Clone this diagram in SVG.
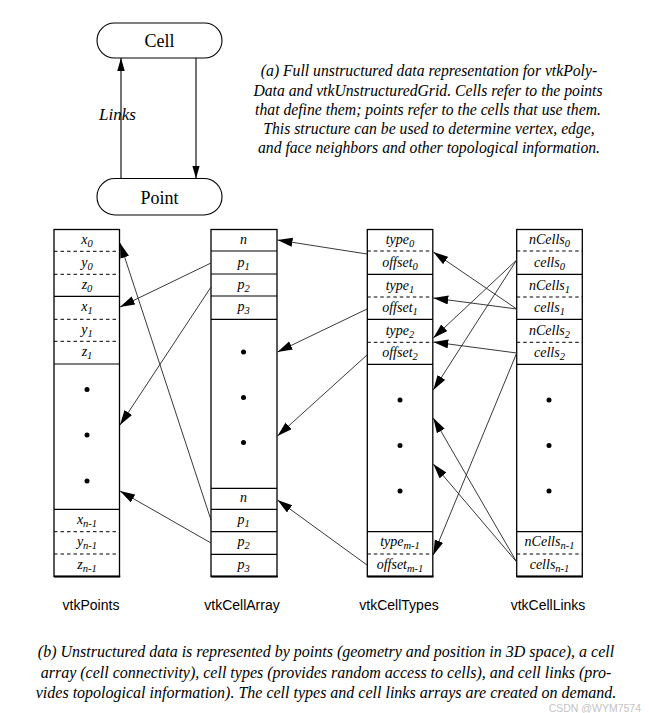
<svg xmlns="http://www.w3.org/2000/svg" width="649" height="713" viewBox="0 0 649 713">
<defs>
<marker id="ah" markerUnits="userSpaceOnUse" markerWidth="16" markerHeight="10" refX="15" refY="4.5" orient="auto">
<path d="M0,0 L15,4.5 L0,9 z" fill="#000"/>
</marker>
<marker id="ah2" markerUnits="userSpaceOnUse" markerWidth="14" markerHeight="8" refX="13" refY="3.75" orient="auto">
<path d="M0,0 L13,3.75 L0,7.5 z" fill="#000"/>
</marker>
</defs>
<style>
.box{fill:#fff;stroke:#000;stroke-width:1.3}
.sep{stroke:#000;stroke-width:1.2}
.dash{stroke:#000;stroke-width:1;stroke-dasharray:3.5 3}
.bot{stroke:#000;stroke-width:2.2}
.lbl{font-family:"Liberation Serif",serif;font-style:italic;font-size:14px;text-anchor:middle;fill:#000}
.sub{font-size:10.5px}
.dot{fill:#000}
.cap{font-family:"Liberation Serif",serif;font-style:italic;font-size:15.7px;text-anchor:middle;fill:#000}
.capb{font-family:"Liberation Serif",serif;font-style:italic;font-size:16px;text-anchor:middle;fill:#000}
.name{font-family:"Liberation Sans",Arial,sans-serif;font-size:14px;text-anchor:middle;fill:#000}
.node{fill:#fff;stroke:#000;stroke-width:1.1}
.ntx{font-family:"Liberation Serif",serif;font-size:18px;text-anchor:middle;fill:#000}
.con{stroke:#222;stroke-width:0.9;fill:none;marker-end:url(#ah)}
.con2{stroke:#000;stroke-width:1.1;fill:none;marker-end:url(#ah2)}
</style>

<g id="cell">
<rect class="node" x="97" y="23" width="125" height="35" rx="17.5"/>
<text class="ntx" x="159.5" y="46.5">Cell</text>
</g>
<g id="point">
<rect class="node" x="97" y="178.5" width="125" height="36.5" rx="18"/>
<text class="ntx" x="159.5" y="203.5">Point</text>
</g>
<text x="99" y="120" style="font-family:'Liberation Serif',serif;font-style:italic;font-size:17px;fill:#000">Links</text>

<g id="caption-a" class="cap">
<text x="429" y="76">(a) Full unstructured data representation for vtkPoly-</text>
<text x="428" y="96">Data and vtkUnstructuredGrid. Cells refer to the points</text>
<text x="428" y="115">that define them; points refer to the cells that use them.</text>
<text x="429" y="134">This structure can be used to determine vertex, edge,</text>
<text x="429" y="153">and face neighbors and other topological information.</text>
</g>

<g id="vtkPoints">
<rect class="box" x="54" y="229.5" width="65.5" height="347"/>
<line class="dash" x1="54" y1="251.3" x2="119.5" y2="251.3"/>
<line class="dash" x1="54" y1="274.3" x2="119.5" y2="274.3"/>
<line class="sep" x1="54" y1="296.3" x2="119.5" y2="296.3"/>
<line class="dash" x1="54" y1="319.3" x2="119.5" y2="319.3"/>
<line class="dash" x1="54" y1="341.3" x2="119.5" y2="341.3"/>
<line class="sep" x1="54" y1="364" x2="119.5" y2="364"/>
<line class="sep" x1="54" y1="509.3" x2="119.5" y2="509.3"/>
<line class="dash" x1="54" y1="531.7" x2="119.5" y2="531.7"/>
<line class="dash" x1="54" y1="554" x2="119.5" y2="554"/>
<line class="bot" x1="54" y1="576.5" x2="120.2" y2="576.5"/>
<text class="lbl" x="87" y="244">x<tspan class="sub" dy="3">0</tspan></text>
<text class="lbl" x="87" y="266.5">y<tspan class="sub" dy="3">0</tspan></text>
<text class="lbl" x="87" y="289">z<tspan class="sub" dy="3">0</tspan></text>
<text class="lbl" x="87" y="311">x<tspan class="sub" dy="3">1</tspan></text>
<text class="lbl" x="87" y="333.5">y<tspan class="sub" dy="3">1</tspan></text>
<text class="lbl" x="87" y="356">z<tspan class="sub" dy="3">1</tspan></text>
<circle class="dot" cx="87" cy="389.5" r="2.5"/>
<circle class="dot" cx="87" cy="435" r="2.5"/>
<circle class="dot" cx="87" cy="481" r="2.5"/>
<text class="lbl" x="87" y="523.5">x<tspan class="sub" dy="3">n-1</tspan></text>
<text class="lbl" x="87" y="546">y<tspan class="sub" dy="3">n-1</tspan></text>
<text class="lbl" x="87" y="568.5">z<tspan class="sub" dy="3">n-1</tspan></text>
<text class="name" x="91" y="610">vtkPoints</text>
</g>

<g id="vtkCellArray">
<rect class="box" x="211" y="229.5" width="66" height="347"/>
<line class="sep" x1="211" y1="251" x2="277" y2="251"/>
<line class="sep" x1="211" y1="274" x2="277" y2="274"/>
<line class="sep" x1="211" y1="296" x2="277" y2="296"/>
<line class="sep" x1="211" y1="319.3" x2="277" y2="319.3"/>
<line class="sep" x1="211" y1="488.3" x2="277" y2="488.3"/>
<line class="sep" x1="211" y1="509.3" x2="277" y2="509.3"/>
<line class="sep" x1="211" y1="531.7" x2="277" y2="531.7"/>
<line class="sep" x1="211" y1="554.3" x2="277" y2="554.3"/>
<line class="bot" x1="211" y1="576.5" x2="277.7" y2="576.5"/>
<text class="lbl" x="243.5" y="244">n</text>
<text class="lbl" x="243.5" y="266.5">p<tspan class="sub" dy="3">1</tspan></text>
<text class="lbl" x="243.5" y="289">p<tspan class="sub" dy="3">2</tspan></text>
<text class="lbl" x="243.5" y="311">p<tspan class="sub" dy="3">3</tspan></text>
<circle class="dot" cx="243.5" cy="352" r="2.5"/>
<circle class="dot" cx="243.5" cy="397.5" r="2.5"/>
<circle class="dot" cx="243.5" cy="442.5" r="2.5"/>
<text class="lbl" x="243.5" y="502">n</text>
<text class="lbl" x="243.5" y="523.5">p<tspan class="sub" dy="3">1</tspan></text>
<text class="lbl" x="243.5" y="546">p<tspan class="sub" dy="3">2</tspan></text>
<text class="lbl" x="243.5" y="568.5">p<tspan class="sub" dy="3">3</tspan></text>
<text class="name" x="242" y="610">vtkCellArray</text>
</g>

<g id="vtkCellTypes">
<rect class="box" x="367.3" y="229.5" width="65.5" height="347"/>
<line class="dash" x1="367.3" y1="251" x2="432.8" y2="251"/>
<line class="sep" x1="367.3" y1="274.3" x2="432.8" y2="274.3"/>
<line class="dash" x1="367.3" y1="297" x2="432.8" y2="297"/>
<line class="sep" x1="367.3" y1="319.3" x2="432.8" y2="319.3"/>
<line class="dash" x1="367.3" y1="342.3" x2="432.8" y2="342.3"/>
<line class="sep" x1="367.3" y1="364.3" x2="432.8" y2="364.3"/>
<line class="sep" x1="367.3" y1="531.7" x2="432.8" y2="531.7"/>
<line class="dash" x1="367.3" y1="554" x2="432.8" y2="554"/>
<line class="bot" x1="367.3" y1="576.5" x2="433.5" y2="576.5"/>
<text class="lbl" x="400" y="244">type<tspan class="sub" dy="3">0</tspan></text>
<text class="lbl" x="400" y="266.5">offset<tspan class="sub" dy="3">0</tspan></text>
<text class="lbl" x="400" y="289.5">type<tspan class="sub" dy="3">1</tspan></text>
<text class="lbl" x="400" y="312">offset<tspan class="sub" dy="3">1</tspan></text>
<text class="lbl" x="400" y="334.5">type<tspan class="sub" dy="3">2</tspan></text>
<text class="lbl" x="400" y="357">offset<tspan class="sub" dy="3">2</tspan></text>
<circle class="dot" cx="400" cy="400" r="2.5"/>
<circle class="dot" cx="400" cy="445.5" r="2.5"/>
<circle class="dot" cx="400" cy="491" r="2.5"/>
<text class="lbl" x="400" y="546">type<tspan class="sub" dy="3">m-1</tspan></text>
<text class="lbl" x="400" y="568.5">offset<tspan class="sub" dy="3">m-1</tspan></text>
<text class="name" x="399" y="610">vtkCellTypes</text>
</g>

<g id="vtkCellLinks">
<rect class="box" x="516.7" y="229.5" width="65.6" height="347"/>
<line class="dash" x1="516.7" y1="251" x2="582.3" y2="251"/>
<line class="sep" x1="516.7" y1="274.3" x2="582.3" y2="274.3"/>
<line class="dash" x1="516.7" y1="297" x2="582.3" y2="297"/>
<line class="sep" x1="516.7" y1="319.3" x2="582.3" y2="319.3"/>
<line class="dash" x1="516.7" y1="342.3" x2="582.3" y2="342.3"/>
<line class="sep" x1="516.7" y1="364.3" x2="582.3" y2="364.3"/>
<line class="sep" x1="516.7" y1="531.7" x2="582.3" y2="531.7"/>
<line class="dash" x1="516.7" y1="554" x2="582.3" y2="554"/>
<line class="bot" x1="516.7" y1="576.5" x2="583" y2="576.5"/>
<text class="lbl" x="549.5" y="244">nCells<tspan class="sub" dy="3">0</tspan></text>
<text class="lbl" x="549.5" y="266.5">cells<tspan class="sub" dy="3">0</tspan></text>
<text class="lbl" x="549.5" y="289.5">nCells<tspan class="sub" dy="3">1</tspan></text>
<text class="lbl" x="549.5" y="312">cells<tspan class="sub" dy="3">1</tspan></text>
<text class="lbl" x="549.5" y="334.5">nCells<tspan class="sub" dy="3">2</tspan></text>
<text class="lbl" x="549.5" y="357">cells<tspan class="sub" dy="3">2</tspan></text>
<circle class="dot" cx="549" cy="400" r="2.5"/>
<circle class="dot" cx="549" cy="445.5" r="2.5"/>
<circle class="dot" cx="549" cy="491" r="2.5"/>
<text class="lbl" x="549.5" y="546">nCells<tspan class="sub" dy="3">n-1</tspan></text>
<text class="lbl" x="549.5" y="568.5">cells<tspan class="sub" dy="3">n-1</tspan></text>
<text class="name" x="548" y="610">vtkCellLinks</text>
</g>

<g id="connectors">
<line class="con2" x1="121" y1="178.5" x2="121" y2="58"/>
<line class="con2" x1="196" y1="58" x2="196" y2="178.5"/>
<line class="con" x1="211" y1="263" x2="120" y2="307"/>
<line class="con" x1="211" y1="287" x2="120" y2="425"/>
<line class="con" x1="211" y1="520" x2="120" y2="243"/>
<line class="con" x1="211" y1="543" x2="120" y2="491"/>
<line class="con" x1="367" y1="254" x2="277.5" y2="240"/>
<line class="con" x1="367" y1="309" x2="277.5" y2="352"/>
<line class="con" x1="367" y1="355" x2="277.5" y2="436"/>
<line class="con" x1="367" y1="565" x2="277.5" y2="500"/>
<line class="con" x1="516.7" y1="260" x2="433.3" y2="338"/>
<line class="con" x1="516.7" y1="260" x2="433.3" y2="390"/>
<line class="con" x1="516.7" y1="309" x2="433.3" y2="252"/>
<line class="con" x1="516.7" y1="309" x2="433.3" y2="298"/>
<line class="con" x1="516.7" y1="353" x2="433.3" y2="342"/>
<line class="con" x1="516.7" y1="353" x2="433.3" y2="555"/>
<line class="con" x1="516.7" y1="562" x2="433.3" y2="418"/>
<line class="con" x1="516.7" y1="562" x2="433.3" y2="464"/>
</g>

<g id="caption-b" class="capb">
<text x="326" y="657">(b) Unstructured data is represented by points (geometry and position in 3D space), a cell</text>
<text x="326" y="678">array (cell connectivity), cell types (provides random access to cells), and cell links (pro-</text>
<text x="326" y="698">vides topological information). The cell types and cell links arrays are created on demand.</text>
</g>
<text x="641" y="712" style="font-family:'Liberation Sans',Arial,sans-serif;font-size:10.5px;fill:#c4c4c4;text-anchor:end">CSDN @WYM7574</text>
</svg>
